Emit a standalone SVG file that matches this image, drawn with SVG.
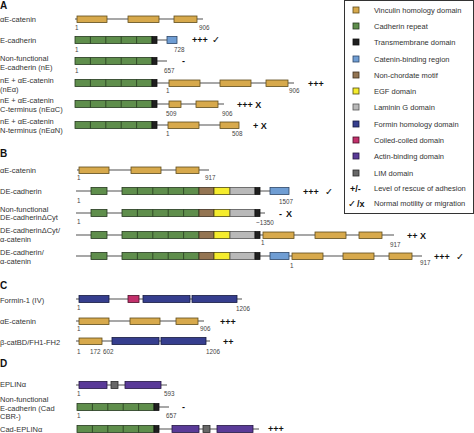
<svg xmlns="http://www.w3.org/2000/svg" width="474" height="433" viewBox="0 0 474 433">
<style>
text{font-family:"Liberation Sans",Arial,sans-serif}
.lb{font-size:7.5px;fill:#333}
.num{font-size:6.3px;fill:#444}
.sec{font-size:10px;font-weight:bold;fill:#111}
.mk{font-size:9px;font-weight:bold;fill:#111}
.ck{font-size:9.5px;font-weight:bold;font-family:"DejaVu Sans",sans-serif;fill:#111}
.lg{font-size:7.5px;fill:#333}
.ln{stroke:#8a8a8a;stroke-width:1.5}
.vh{fill:#d7a94c;stroke:#5e4b1c;stroke-width:0.8}
.cr{fill:#5f8e4c;stroke:#25381e;stroke-width:0.8}
.tm{fill:#1f1f1f;stroke:#111;stroke-width:0.8}
.cb{fill:#6f9dd3;stroke:#2d4668;stroke-width:0.8}
.nc{fill:#947553;stroke:#3e3020;stroke-width:0.8}
.egf{fill:#f5ec2d;stroke:#4f4a10;stroke-width:0.8}
.lam{fill:#b9b9b9;stroke:#555;stroke-width:0.8}
.fh{fill:#363e8e;stroke:#161a40;stroke-width:0.8}
.cc{fill:#c2306b;stroke:#4a1028;stroke-width:0.8}
.ab{fill:#5a3b98;stroke:#231642;stroke-width:0.8}
.lim{fill:#686868;stroke:#2a2a2a;stroke-width:0.8}
.dv{stroke:#25381e;stroke-width:0.8}
</style>
<g id="section-labels">
<text class="sec" x="0" y="9">A</text>
<text class="sec" x="0" y="157">B</text>
<text class="sec" x="0" y="289">C</text>
<text class="sec" x="0" y="367">D</text>
</g>
<g id="A-aEcatenin">
<text class="lb" x="0" y="22">αE-catenin</text>
<line class="ln" x1="75" y1="19" x2="203" y2="19"/>
<rect class="vh" x="77" y="16" width="30" height="6.5"/>
<rect class="vh" x="128" y="16" width="31" height="6.5"/>
<rect class="vh" x="174" y="16" width="23" height="6.5"/>
<text class="num" x="75" y="29.5">1</text>
<text class="num" x="199" y="29.5">906</text>
</g>
<g id="A-Ecadherin">
<text class="lb" x="0" y="43">E-cadherin</text>
<line class="ln" x1="157" y1="40" x2="167" y2="40"/>
<rect class="cr" x="75" y="36.5" width="77" height="7"/>
<line class="dv" x1="90.4" y1="36.5" x2="90.4" y2="43.5"/><line class="dv" x1="105.8" y1="36.5" x2="105.8" y2="43.5"/><line class="dv" x1="121.2" y1="36.5" x2="121.2" y2="43.5"/><line class="dv" x1="136.6" y1="36.5" x2="136.6" y2="43.5"/>
<rect class="tm" x="152" y="36.5" width="5" height="7"/>
<rect class="cb" x="167" y="36.5" width="10" height="7"/>
<text class="num" x="75" y="51.5">1</text>
<text class="num" x="174" y="51.5">728</text>
<text class="mk" x="192" y="43">+++</text>
<text class="ck" x="212" y="43">✓</text>
</g>
<g id="A-nE">
<text class="lb" x="0" y="60.5">Non-functional</text>
<text class="lb" x="0" y="69.5">E-cadherin (nE)</text>
<line class="ln" x1="157" y1="61" x2="167" y2="61"/>
<rect class="cr" x="75" y="57.5" width="77" height="7"/>
<line class="dv" x1="90.4" y1="57.5" x2="90.4" y2="64.5"/><line class="dv" x1="105.8" y1="57.5" x2="105.8" y2="64.5"/><line class="dv" x1="121.2" y1="57.5" x2="121.2" y2="64.5"/><line class="dv" x1="136.6" y1="57.5" x2="136.6" y2="64.5"/>
<rect class="tm" x="152" y="57.5" width="5" height="7"/>
<text class="num" x="75" y="72.5">1</text>
<text class="num" x="164" y="72.5">657</text>
<text class="mk" x="182" y="64">-</text>
</g>
<g id="A-nEa">
<text class="lb" x="0" y="82.5">nE + αE-catenin</text>
<text class="lb" x="0" y="91.5">(nEα)</text>
<line class="ln" x1="157" y1="83" x2="294" y2="83"/>
<rect class="cr" x="75" y="79.5" width="77" height="7"/>
<line class="dv" x1="90.4" y1="79.5" x2="90.4" y2="86.5"/><line class="dv" x1="105.8" y1="79.5" x2="105.8" y2="86.5"/><line class="dv" x1="121.2" y1="79.5" x2="121.2" y2="86.5"/><line class="dv" x1="136.6" y1="79.5" x2="136.6" y2="86.5"/>
<rect class="tm" x="152" y="79.5" width="5" height="7"/>
<rect class="vh" x="169" y="80" width="31" height="6.5"/>
<rect class="vh" x="220" y="80" width="31" height="6.5"/>
<rect class="vh" x="266" y="80" width="22" height="6.5"/>
<text class="num" x="166" y="92.5">1</text>
<text class="num" x="289" y="93">906</text>
<text class="mk" x="308" y="87">+++</text>
</g>
<g id="A-nEaC">
<text class="lb" x="0" y="103">nE + αE-catenin</text>
<text class="lb" x="0" y="112">C-terminus (nEαC)</text>
<line class="ln" x1="157" y1="104" x2="224" y2="104"/>
<rect class="cr" x="75" y="100.5" width="77" height="7"/>
<line class="dv" x1="90.4" y1="100.5" x2="90.4" y2="107.5"/><line class="dv" x1="105.8" y1="100.5" x2="105.8" y2="107.5"/><line class="dv" x1="121.2" y1="100.5" x2="121.2" y2="107.5"/><line class="dv" x1="136.6" y1="100.5" x2="136.6" y2="107.5"/>
<rect class="tm" x="152" y="100.5" width="5" height="7"/>
<rect class="vh" x="169" y="101" width="12" height="6.5"/>
<rect class="vh" x="196" y="101" width="22" height="6.5"/>
<text class="num" x="166" y="115.5">509</text>
<text class="num" x="222" y="115.5">906</text>
<text class="mk" x="237" y="107.5">+++ X</text>
</g>
<g id="A-nEaN">
<text class="lb" x="0" y="124">nE + αE-catenin</text>
<text class="lb" x="0" y="133">N-terminus (nEαN)</text>
<line class="ln" x1="157" y1="125" x2="239" y2="125"/>
<rect class="cr" x="75" y="121.5" width="77" height="7"/>
<line class="dv" x1="90.4" y1="121.5" x2="90.4" y2="128.5"/><line class="dv" x1="105.8" y1="121.5" x2="105.8" y2="128.5"/><line class="dv" x1="121.2" y1="121.5" x2="121.2" y2="128.5"/><line class="dv" x1="136.6" y1="121.5" x2="136.6" y2="128.5"/>
<rect class="tm" x="152" y="121.5" width="5" height="7"/>
<rect class="vh" x="168" y="122" width="31" height="6.5"/>
<rect class="vh" x="220" y="122" width="19" height="6.5"/>
<text class="num" x="166" y="135.5">1</text>
<text class="num" x="232" y="135.5">508</text>
<text class="mk" x="253" y="128.5">+ X</text>
</g>
<g id="B-aEcatenin">
<text class="lb" x="0" y="172.5">αE-catenin</text>
<line class="ln" x1="77" y1="170" x2="209" y2="170"/>
<rect class="vh" x="79" y="167" width="30" height="6.5"/>
<rect class="vh" x="131" y="167" width="30" height="6.5"/>
<rect class="vh" x="176" y="167" width="23" height="6.5"/>
<text class="num" x="77" y="179.5">1</text>
<text class="num" x="205" y="179.5">917</text>
</g>
<g id="B-DEcadherin">
<text class="lb" x="0" y="193.5">DE-cadherin</text>
<line class="ln" x1="76" y1="191" x2="270" y2="191"/>
<rect class="cr" x="91" y="187.5" width="16" height="7"/>
<rect class="cr" x="122" y="187.5" width="77" height="7"/>
<line class="dv" x1="137.4" y1="187.5" x2="137.4" y2="194.5"/><line class="dv" x1="152.8" y1="187.5" x2="152.8" y2="194.5"/><line class="dv" x1="168.2" y1="187.5" x2="168.2" y2="194.5"/><line class="dv" x1="183.6" y1="187.5" x2="183.6" y2="194.5"/>
<rect class="nc" x="199" y="187.5" width="15" height="7"/>
<rect class="egf" x="214" y="187.5" width="16" height="7"/>
<rect class="lam" x="230" y="187.5" width="25" height="7"/>
<rect class="tm" x="255" y="187.5" width="5" height="7"/>
<rect class="cb" x="270" y="187.5" width="19" height="7"/>
<text class="num" x="77" y="202.5">1</text>
<text class="num" x="279" y="203.5">1507</text>
<text class="mk" x="303" y="194.5">+++</text>
<text class="ck" x="325" y="194.5">✓</text>
</g>
<g id="B-DEcadherinDCyt">
<text class="lb" x="0" y="211.5">Non-functional</text>
<text class="lb" x="0" y="220">DE-cadherinΔCyt</text>
<line class="ln" x1="76" y1="213" x2="265" y2="213"/>
<rect class="cr" x="91" y="209.5" width="16" height="7"/>
<rect class="cr" x="122" y="209.5" width="77" height="7"/>
<line class="dv" x1="137.4" y1="209.5" x2="137.4" y2="216.5"/><line class="dv" x1="152.8" y1="209.5" x2="152.8" y2="216.5"/><line class="dv" x1="168.2" y1="209.5" x2="168.2" y2="216.5"/><line class="dv" x1="183.6" y1="209.5" x2="183.6" y2="216.5"/>
<rect class="nc" x="199" y="209.5" width="15" height="7"/>
<rect class="egf" x="214" y="209.5" width="16" height="7"/>
<rect class="lam" x="230" y="209.5" width="25" height="7"/>
<rect class="tm" x="255" y="209.5" width="5" height="7"/>
<text class="num" x="77" y="223.5">1</text>
<text class="num" x="256" y="224.5">~1350</text>
<text class="mk" x="279" y="216.5">-</text>
<text class="mk" x="286" y="216.5">X</text>
</g>
<g id="B-DEcadherinDCyt-acatenin">
<text class="lb" x="0" y="232.5">DE-cadherinΔCyt/</text>
<text class="lb" x="0" y="241.5">α-catenin</text>
<line class="ln" x1="76" y1="235" x2="394" y2="235"/>
<rect class="cr" x="91" y="231.5" width="16" height="7"/>
<rect class="cr" x="122" y="231.5" width="77" height="7"/>
<line class="dv" x1="137.4" y1="231.5" x2="137.4" y2="238.5"/><line class="dv" x1="152.8" y1="231.5" x2="152.8" y2="238.5"/><line class="dv" x1="168.2" y1="231.5" x2="168.2" y2="238.5"/><line class="dv" x1="183.6" y1="231.5" x2="183.6" y2="238.5"/>
<rect class="nc" x="199" y="231.5" width="15" height="7"/>
<rect class="egf" x="214" y="231.5" width="16" height="7"/>
<rect class="lam" x="230" y="231.5" width="25" height="7"/>
<rect class="tm" x="255" y="231.5" width="5" height="7"/>
<rect class="vh" x="263" y="232" width="31" height="6.5"/>
<rect class="vh" x="315" y="232" width="31" height="6.5"/>
<rect class="vh" x="359" y="232" width="23" height="6.5"/>
<text class="num" x="261" y="244.5">1</text>
<text class="num" x="390" y="246.5">917</text>
<text class="mk" x="407" y="238.5">++ X</text>
</g>
<g id="B-DEcadherin-acatenin">
<text class="lb" x="0" y="254.5">DE-cadherin/</text>
<text class="lb" x="0" y="263.5">α-catenin</text>
<line class="ln" x1="76" y1="256" x2="422" y2="256"/>
<rect class="cr" x="91" y="252.5" width="16" height="7"/>
<rect class="cr" x="122" y="252.5" width="77" height="7"/>
<line class="dv" x1="137.4" y1="252.5" x2="137.4" y2="259.5"/><line class="dv" x1="152.8" y1="252.5" x2="152.8" y2="259.5"/><line class="dv" x1="168.2" y1="252.5" x2="168.2" y2="259.5"/><line class="dv" x1="183.6" y1="252.5" x2="183.6" y2="259.5"/>
<rect class="nc" x="199" y="252.5" width="15" height="7"/>
<rect class="egf" x="214" y="252.5" width="16" height="7"/>
<rect class="lam" x="230" y="252.5" width="25" height="7"/>
<rect class="tm" x="255" y="252.5" width="5" height="7"/>
<rect class="cb" x="270" y="252.5" width="19" height="7"/>
<rect class="vh" x="292" y="253" width="31" height="6.5"/>
<rect class="vh" x="343" y="253" width="31" height="6.5"/>
<rect class="vh" x="389" y="253" width="23" height="6.5"/>
<text class="num" x="290" y="267.5">1</text>
<text class="num" x="420" y="264.5">917</text>
<text class="mk" x="434" y="259.5">+++</text>
<text class="ck" x="456" y="259.5">✓</text>
</g>
<g id="C-formin">
<text class="lb" x="0" y="302.5">Formin-1 (IV)</text>
<line class="ln" x1="76" y1="299" x2="242" y2="299"/>
<rect class="fh" x="79" y="295.5" width="30" height="7"/>
<rect class="cc" x="128" y="295.5" width="11" height="7"/>
<rect class="fh" x="143" y="295.5" width="47" height="7"/>
<rect class="fh" x="192" y="295.5" width="45" height="7"/>
<text class="num" x="77" y="309.5">1</text>
<text class="num" x="236" y="310.5">1206</text>
</g>
<g id="C-aEcatenin">
<text class="lb" x="0" y="323.5">αE-catenin</text>
<line class="ln" x1="76" y1="321" x2="204" y2="321"/>
<rect class="vh" x="79" y="318" width="30" height="6.5"/>
<rect class="vh" x="130" y="318" width="30" height="6.5"/>
<rect class="vh" x="176" y="318" width="22" height="6.5"/>
<text class="num" x="77" y="330.5">1</text>
<text class="num" x="200" y="330.5">906</text>
<text class="mk" x="220" y="324.5">+++</text>
</g>
<g id="C-bcatBD-FH1-FH2">
<text class="lb" x="0" y="344.5">β-catBD/FH1-FH2</text>
<line class="ln" x1="76" y1="341" x2="210" y2="341"/>
<rect class="vh" x="79" y="338" width="23" height="6.5"/>
<rect class="fh" x="112" y="337.5" width="47" height="7"/>
<rect class="fh" x="161" y="337.5" width="45" height="7"/>
<text class="num" x="77" y="353.5">1</text>
<text class="num" x="90" y="353.5">172</text>
<text class="num" x="103" y="353.5">602</text>
<text class="num" x="206" y="353.5">1206</text>
<text class="mk" x="223" y="344.5">++</text>
</g>
<g id="D-EPLINa">
<text class="lb" x="0" y="386.5">EPLINα</text>
<line class="ln" x1="76" y1="385" x2="167" y2="385"/>
<rect class="ab" x="79" y="381.5" width="28" height="7"/>
<rect class="lim" x="111" y="381.5" width="7" height="7"/>
<rect class="ab" x="125" y="381.5" width="36" height="7"/>
<text class="num" x="77" y="395.5">1</text>
<text class="num" x="164" y="395.5">593</text>
</g>
<g id="D-CadCBR">
<text class="lb" x="0" y="401.5">Non-functional</text>
<text class="lb" x="0" y="410.5">E-cadherin (Cad</text>
<text class="lb" x="0" y="419">CBR-)</text>
<line class="ln" x1="159" y1="407" x2="169" y2="407"/>
<rect class="cr" x="77" y="403.5" width="77" height="7"/>
<line class="dv" x1="92.4" y1="403.5" x2="92.4" y2="410.5"/><line class="dv" x1="107.8" y1="403.5" x2="107.8" y2="410.5"/><line class="dv" x1="123.2" y1="403.5" x2="123.2" y2="410.5"/><line class="dv" x1="138.6" y1="403.5" x2="138.6" y2="410.5"/>
<rect class="tm" x="154" y="403.5" width="5" height="7"/>
<text class="num" x="77" y="417.5">1</text>
<text class="num" x="166" y="417.5">657</text>
<text class="mk" x="182" y="410">-</text>
</g>
<g id="D-CadEPLINa">
<text class="lb" x="0" y="431.5">Cad-EPLINα</text>
<line class="ln" x1="159" y1="429" x2="259" y2="429"/>
<rect class="cr" x="77" y="425.5" width="77" height="7"/>
<line class="dv" x1="92.4" y1="425.5" x2="92.4" y2="432.5"/><line class="dv" x1="107.8" y1="425.5" x2="107.8" y2="432.5"/><line class="dv" x1="123.2" y1="425.5" x2="123.2" y2="432.5"/><line class="dv" x1="138.6" y1="425.5" x2="138.6" y2="432.5"/>
<rect class="tm" x="154" y="425.5" width="5" height="7"/>
<rect class="ab" x="172" y="425.5" width="27" height="7"/>
<rect class="lim" x="203" y="425.5" width="7" height="7"/>
<rect class="ab" x="217" y="425.5" width="36" height="7"/>
<text class="mk" x="268" y="431.5">+++</text>
</g>
<g id="legend">
<rect x="344.5" y="0.5" width="129" height="213" fill="#fff" stroke="#333" stroke-width="1"/>
<rect class="vh" x="353" y="7" width="6" height="6"/><text class="lg" x="374" y="12.7">Vinculin homology domain</text>
<rect class="cr" x="353" y="23" width="6" height="6"/><text class="lg" x="374" y="28.7">Cadherin repeat</text>
<rect class="tm" x="353" y="39" width="6" height="6"/><text class="lg" x="374" y="44.7">Transmembrane domain</text>
<rect class="cb" x="353" y="56" width="6" height="6"/><text class="lg" x="374" y="61.7">Catenin-binding region</text>
<rect class="nc" x="353" y="72" width="6" height="6"/><text class="lg" x="374" y="77.7">Non-chordate motif</text>
<rect class="egf" x="353" y="88" width="6" height="6"/><text class="lg" x="374" y="93.7">EGF domain</text>
<rect class="lam" x="353" y="104" width="6" height="6"/><text class="lg" x="374" y="109.7">Laminin G domain</text>
<rect class="fh" x="353" y="121" width="6" height="6"/><text class="lg" x="374" y="126.7">Formin homology domain</text>
<rect class="cc" x="353" y="137" width="6" height="6"/><text class="lg" x="374" y="142.7">Coiled-coiled domain</text>
<rect class="ab" x="353" y="153" width="6" height="6"/><text class="lg" x="374" y="158.7">Actin-binding domain</text>
<rect class="lim" x="353" y="170" width="6" height="6"/><text class="lg" x="374" y="175.7">LIM domain</text>
<text class="mk" x="350" y="191.5">+/-</text><text class="lg" x="374" y="190.7">Level of rescue of adhesion</text>
<text class="ck" x="348" y="206.5">✓</text><text class="mk" x="357" y="206.5">/x</text><text class="lg" x="374" y="205.7">Normal motility or migration</text>
</g>
</svg>
